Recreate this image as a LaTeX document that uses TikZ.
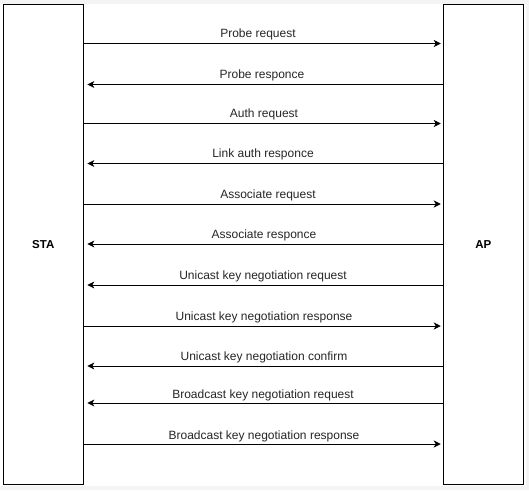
\documentclass[tikz,border=0pt]{standalone}
\usepackage{fontspec}
\setmainfont{Liberation Sans}
\usetikzlibrary{arrows.meta}
\definecolor{bggrey}{HTML}{F4F4F4}
\begin{document}
\begin{tikzpicture}[x=1pt,y=-1pt,
  ent/.style={draw=black,line width=1.1pt,fill=white,minimum width=80pt,minimum height=480pt,inner sep=0pt,font=\bfseries\fontsize{11.5}{13}\selectfont},
  msg/.style={draw=black,line width=0.9pt,-{Stealth[length=7pt,width=7pt,inset=2pt]}},
  rmsg/.style={msg,shorten >=2pt},
  lmsg/.style={msg,shorten >=3.5pt},
  lbl/.style={inner sep=0pt,font=\fontsize{12}{14}\selectfont,text=black!85}]
\fill[bggrey] (0,0) rectangle (529,490);
\fill[white] (0,3.5) rectangle (525.5,485.5);
\useasboundingbox (0,0) rectangle (529,490);
\node[ent] (sta) at (43.3,244.2) {STA};
\node[ent] (ap) at (483.3,244.2) {AP};
% messages
\draw[rmsg] (sta.east |- 0,43.5) coordinate (s1) -- (ap.west |- 0,43.5) coordinate (a1);
\draw[lmsg] (ap.west |- 0,84.5) coordinate (a2) -- (sta.east |- 0,84.5) coordinate (s2);
\draw[rmsg] (sta.east |- 0,123.5) coordinate (s3) -- (ap.west |- 0,123.5) coordinate (a3);
\draw[lmsg] (ap.west |- 0,163.5) coordinate (a4) -- (sta.east |- 0,163.5) coordinate (s4);
\draw[rmsg] (sta.east |- 0,204) coordinate (s5) -- (ap.west |- 0,204) coordinate (a5);
\draw[lmsg] (ap.west |- 0,244) coordinate (a6) -- (sta.east |- 0,244) coordinate (s6);
\draw[lmsg] (ap.west |- 0,285) coordinate (a7) -- (sta.east |- 0,285) coordinate (s7);
\draw[rmsg] (sta.east |- 0,326) coordinate (s8) -- (ap.west |- 0,326) coordinate (a8);
\draw[lmsg] (ap.west |- 0,366) coordinate (a9) -- (sta.east |- 0,366) coordinate (s9);
\draw[lmsg] (ap.west |- 0,403) coordinate (a10) -- (sta.east |- 0,403) coordinate (s10);
\draw[rmsg] (sta.east |- 0,444) coordinate (s11) -- (ap.west |- 0,444) coordinate (a11);
% labels
\node[lbl] (l1) at (258,34.5) {Probe request};
\node[lbl] (l2) at (262,75.5) {Probe responce};
\node[lbl] (l3) at (264,114.5) {Auth request};
\node[lbl] (l4) at (263,154.5) {Link auth responce};
\node[lbl] (l5) at (268,195.5) {Associate request};
\node[lbl] (l6) at (264,235.5) {Associate responce};
\node[lbl] (l7) at (263,276) {Unicast key negotiation request};
\node[lbl] (l8) at (264,317.5) {Unicast key negotiation response};
\node[lbl] (l9) at (264,357.5) {Unicast key negotiation confirm};
\node[lbl] (l10) at (263,395) {Broadcast key negotiation request};
\node[lbl] (l11) at (264,436) {Broadcast key negotiation response};
\end{tikzpicture}
\end{document}
